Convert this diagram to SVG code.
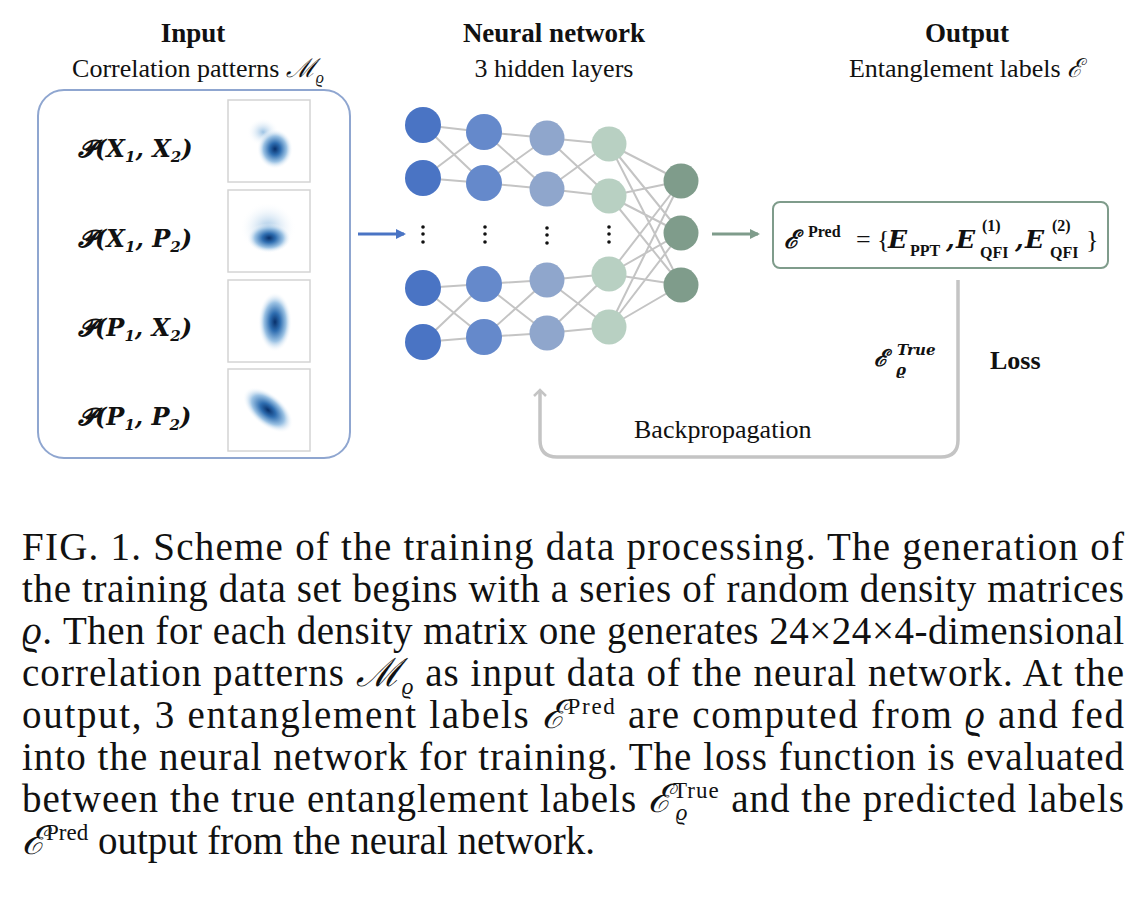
<svg xmlns="http://www.w3.org/2000/svg" width="1146" height="914" viewBox="0 0 1146 914">
<style>
.s{font-family:"Liberation Serif","DejaVu Serif",serif;fill:#111}
.b{font-weight:bold}
.m{font-family:"DejaVu Serif","Liberation Serif",serif;font-weight:bold;font-style:italic;fill:#111}
.e{stroke:#c4c4c4;stroke-width:2;fill:none}
.hm{fill:#fff;stroke:#d4d4d4;stroke-width:1.5}
.cap{font-family:"Liberation Serif",serif;font-size:39px;fill:#111}
.sb{font-family:"Liberation Serif",serif;font-weight:bold;fill:#111;font-size:16px}
</style>
<defs>
<radialGradient id="g"><stop offset="0" stop-color="#08306b"/><stop offset="0.3" stop-color="#2e6db0"/><stop offset="0.65" stop-color="#9dc3e4"/><stop offset="1" stop-color="#fff" stop-opacity="0"/></radialGradient>
<radialGradient id="gl"><stop offset="0" stop-color="#9dc3e4"/><stop offset="1" stop-color="#fff" stop-opacity="0"/></radialGradient>
<marker id="ab" markerWidth="10" markerHeight="10" refX="8" refY="5" orient="auto" markerUnits="userSpaceOnUse"><path d="M0,0L10,5L0,10z" fill="#4a74c4"/></marker>
<marker id="ag" markerWidth="10" markerHeight="10" refX="8" refY="5" orient="auto" markerUnits="userSpaceOnUse"><path d="M0,0L10,5L0,10z" fill="#7f9c8b"/></marker>
<marker id="ay" markerWidth="14" markerHeight="14" refX="7" refY="7" orient="auto" markerUnits="userSpaceOnUse"><path d="M1,1L7,7L1,13" fill="none" stroke="#c4c4c4" stroke-width="2.5"/></marker>
</defs>
<rect width="1146" height="914" fill="#fff"/>
<text class="s b" x="193" y="42" font-size="27" text-anchor="middle">Input</text>
<text class="s" x="198" y="77" font-size="26" text-anchor="middle">Correlation patterns <tspan font-style="italic">ℳ</tspan><tspan font-size="16" font-style="italic" dy="6">ϱ</tspan></text>
<text class="s b" x="554" y="42" font-size="27" text-anchor="middle">Neural network</text>
<text class="s" x="554" y="77" font-size="26" text-anchor="middle">3 hidden layers</text>
<text class="s b" x="967" y="42" font-size="27" text-anchor="middle">Output</text>
<text class="s" x="966" y="77" font-size="26" text-anchor="middle">Entanglement labels <tspan font-style="italic">ℰ</tspan></text>
<g id="input">
<rect x="38" y="90" width="312" height="368" rx="26" fill="#fff" stroke="#8fa6d0" stroke-width="2"/>
<text class="m" x="78" y="157" font-size="24">𝓟(X<tspan font-size="15" dy="5">1</tspan><tspan dy="-5">, X</tspan><tspan font-size="15" dy="5">2</tspan><tspan dy="-5">)</tspan></text>
<text class="m" x="78" y="247" font-size="24">𝓟(X<tspan font-size="15" dy="5">1</tspan><tspan dy="-5">, P</tspan><tspan font-size="15" dy="5">2</tspan><tspan dy="-5">)</tspan></text>
<text class="m" x="78" y="336" font-size="24">𝓟(P<tspan font-size="15" dy="5">1</tspan><tspan dy="-5">, X</tspan><tspan font-size="15" dy="5">2</tspan><tspan dy="-5">)</tspan></text>
<text class="m" x="78" y="425" font-size="24">𝓟(P<tspan font-size="15" dy="5">1</tspan><tspan dy="-5">, P</tspan><tspan font-size="15" dy="5">2</tspan><tspan dy="-5">)</tspan></text>
<rect class="hm" x="228" y="100" width="82" height="82"/>
<ellipse cx="263" cy="132" rx="16" ry="14" fill="url(#gl)"/>
<ellipse cx="275" cy="149" rx="18" ry="20" fill="url(#g)"/>
<rect class="hm" x="228" y="190" width="82" height="82"/>
<ellipse cx="268" cy="228" rx="28" ry="26" fill="url(#gl)"/>
<ellipse cx="269" cy="238" rx="22" ry="15" fill="url(#g)"/>
<rect class="hm" x="228" y="280" width="82" height="82"/>
<ellipse cx="275" cy="322" rx="17" ry="30" fill="url(#g)"/>
<rect class="hm" x="228" y="369" width="82" height="82"/>
<ellipse cx="268" cy="410" rx="30" ry="16" transform="rotate(40 268 410)" fill="url(#g)"/>
</g>
<g id="connectors">
<g class="e">
<path d="M423,125L484,132M423,125L484,183M423,178L484,132M423,178L484,183"/>
<path d="M484,132L547,138M484,132L547,189M484,183L547,138M484,183L547,189"/>
<path d="M547,138L609,144M547,138L609,196M547,189L609,144M547,189L609,196"/>
<path d="M423,288L484,284M423,288L484,337M423,342L484,284M423,342L484,337"/>
<path d="M484,284L547,280M484,284L547,333M484,337L547,280M484,337L547,333"/>
<path d="M547,280L609,274M547,280L609,327M547,333L609,274M547,333L609,327"/>
<path d="M609,144L681,181M609,144L681,233M609,144L681,285M609,196L681,181M609,196L681,233M609,196L681,285M609,274L681,181M609,274L681,233M609,274L681,285M609,327L681,181M609,327L681,233M609,327L681,285"/>
</g>
<line x1="358" y1="234" x2="404" y2="234" stroke="#4a74c4" stroke-width="3" marker-end="url(#ab)"/>
<line x1="712" y1="234" x2="758" y2="234" stroke="#7f9c8b" stroke-width="3" marker-end="url(#ag)"/>
<path d="M958,280V440Q958,457 941,457H557Q540,457 540,440V390" fill="none" stroke="#c4c4c4" stroke-width="3.5" marker-end="url(#ay)"/>
</g>
<g id="network">
<g fill="#4a74c4"><circle cx="423" cy="125" r="18"/><circle cx="423" cy="178" r="18"/><circle cx="423" cy="288" r="18"/><circle cx="423" cy="342" r="18"/></g>
<g fill="#6589cb"><circle cx="484" cy="132" r="18"/><circle cx="484" cy="183" r="18"/><circle cx="484" cy="284" r="18"/><circle cx="484" cy="337" r="18"/></g>
<g fill="#8fa6cc"><circle cx="547" cy="138" r="17.5"/><circle cx="547" cy="189" r="17.5"/><circle cx="547" cy="280" r="17.5"/><circle cx="547" cy="333" r="17.5"/></g>
<g fill="#b8d0c2"><circle cx="609" cy="144" r="17.5"/><circle cx="609" cy="196" r="17.5"/><circle cx="609" cy="274" r="17.5"/><circle cx="609" cy="327" r="17.5"/></g>
<g fill="#7f9c8b"><circle cx="681" cy="181" r="17.5"/><circle cx="681" cy="233" r="17.5"/><circle cx="681" cy="285" r="17.5"/></g>
<g fill="#111"><circle cx="423" cy="227" r="1.8"/><circle cx="423" cy="234" r="1.8"/><circle cx="423" cy="242" r="1.8"/>
<circle cx="485" cy="227" r="1.8"/><circle cx="485" cy="234" r="1.8"/><circle cx="485" cy="242" r="1.8"/>
<circle cx="547" cy="228" r="1.8"/><circle cx="547" cy="235" r="1.8"/><circle cx="547" cy="243" r="1.8"/>
<circle cx="609" cy="227" r="1.8"/><circle cx="609" cy="234" r="1.8"/><circle cx="609" cy="242" r="1.8"/></g>
</g>
<g id="output">
<rect x="773" y="202" width="335" height="66" rx="7" fill="#fff" stroke="#7f9c8b" stroke-width="2"/>
<text class="m" x="784" y="248" font-size="25">ℰ</text>
<text class="sb" x="808" y="237" font-size="18">Pred</text>
<text class="s" x="856" y="248" font-size="26">=</text>
<text class="s" x="877" y="248" font-size="26">{</text>
<text class="m" x="888" y="248" font-size="25">E</text>
<text class="sb" x="910" y="256">PPT</text>
<text class="m" x="946" y="248" font-size="25">,</text>
<text class="m" x="956" y="248" font-size="25">E</text>
<text class="sb" x="980" y="258">QFI</text>
<text class="sb" x="982" y="231">(1)</text>
<text class="m" x="1015" y="248" font-size="25">,</text>
<text class="m" x="1025" y="248" font-size="25">E</text>
<text class="sb" x="1050" y="258">QFI</text>
<text class="sb" x="1052" y="231">(2)</text>
<text class="s" x="1086" y="248" font-size="26">}</text>
</g>
<g id="labels">
<text class="m" x="874" y="366" font-size="23">ℰ</text>
<text class="m" x="897" y="355" font-size="15">True</text>
<text class="m" x="896" y="375" font-size="15">ϱ</text>
<text class="s b" x="990" y="369" font-size="26">Loss</text>
<text class="s" x="634" y="438" font-size="26">Backpropagation</text>
</g>
<g id="caption" class="cap">
<text x="22" y="560" textLength="1102" lengthAdjust="spacing">FIG. 1.   Scheme of the training data processing. The generation of</text>
<text x="22" y="602" textLength="1102" lengthAdjust="spacing">the training data set begins with a series of random density matrices</text>
<text x="22" y="644" textLength="1102" lengthAdjust="spacing"><tspan font-style="italic">ϱ</tspan>. Then for each density matrix one generates 24×24×4-dimensional</text>
<text x="22" y="686" textLength="1102" lengthAdjust="spacing">correlation patterns <tspan font-style="italic">ℳ</tspan><tspan font-size="23" font-style="italic" dy="8">ϱ</tspan><tspan dy="-8"> as input data of the neural network. At the</tspan></text>
<text x="22" y="728" textLength="1102" lengthAdjust="spacing">output, 3 entanglement labels <tspan font-style="italic">ℰ</tspan><tspan font-size="23" dy="-14">Pred</tspan><tspan dy="14"> are computed from </tspan><tspan font-style="italic">ϱ</tspan> and fed</text>
<text x="22" y="770" textLength="1102" lengthAdjust="spacing">into the neural network for training. The loss function is evaluated</text>
<text x="22" y="812" textLength="1102" lengthAdjust="spacing">between the true entanglement labels <tspan font-style="italic">ℰ</tspan><tspan font-size="23" dy="-14">True</tspan><tspan dx="-44" dy="22" font-size="23" font-style="italic">ϱ</tspan><tspan dx="32" dy="-8"> and the predicted labels</tspan></text>
<text x="22" y="854"><tspan font-style="italic">ℰ</tspan><tspan font-size="23" dy="-14">Pred</tspan><tspan dy="14"> output from the neural network.</tspan></text>
</g>
</svg>
